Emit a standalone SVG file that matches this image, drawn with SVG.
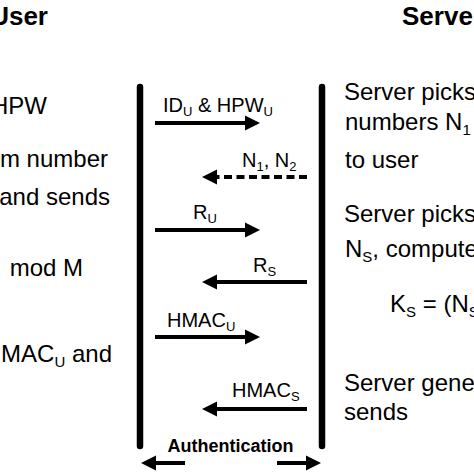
<svg xmlns="http://www.w3.org/2000/svg" width="474" height="474" viewBox="0 0 474 474">
<style>
.t{font-family:"Liberation Sans",Arial,sans-serif;font-size:24px;fill:#000}
.h{font-family:"Liberation Sans",Arial,sans-serif;font-size:26px;font-weight:bold;fill:#000}
.l{font-family:"Liberation Sans",Arial,sans-serif;font-size:20px;fill:#000}
.b{font-family:"Liberation Sans",Arial,sans-serif;font-size:18px;font-weight:bold;fill:#000}
.s{font-size:15px}
.ls{font-size:13px}
.life{stroke:#000;stroke-width:6.5;stroke-linecap:round;fill:none}
.arr{stroke:#000;stroke-width:4;fill:none;marker-end:url(#ah)}
.dash{stroke-dasharray:8 4.5}
</style>
<defs>
<marker id="ah" markerUnits="userSpaceOnUse" markerWidth="17" markerHeight="17" viewBox="0 -8.5 17 17" refX="1" refY="0" orient="auto">
<path d="M0,-7.5 L15,0 L0,7.5z" fill="#000"/>
</marker>
</defs>
<rect width="474" height="474" fill="#fff"/>

<g id="user-header"><text class="h" x="48" y="25" text-anchor="end">User</text></g>
<g id="server-header"><text class="h" x="402" y="25">Server</text></g>

<g id="user-lifeline"><line class="life" x1="140" y1="87" x2="140" y2="446"/></g>
<g id="server-lifeline"><line class="life" x1="322" y1="87" x2="322" y2="446"/></g>

<g id="user-steps">
<text class="t" x="47" y="114" text-anchor="end">HPW</text>
<text class="t" x="108" y="167" text-anchor="end">m number</text>
<text class="t" x="110" y="205" text-anchor="end">and sends</text>
<text class="t" x="83" y="276" text-anchor="end">mod M</text>
<text class="t" x="112" y="362" text-anchor="end">MAC<tspan class="s" dy="5">U</tspan><tspan dy="-5"> and</tspan></text>
</g>

<g id="server-steps">
<text class="t" x="344" y="100">Server picks</text>
<text class="t" x="345" y="130">numbers N<tspan class="s" dy="5">1</tspan></text>
<text class="t" x="345" y="168">to user</text>
<text class="t" x="344" y="222">Server picks</text>
<text class="t" x="345" y="257">N<tspan class="s" dy="5">S</tspan><tspan dy="-5">, compute</tspan></text>
<text class="t" x="390" y="312">K<tspan class="s" dy="5">S</tspan><tspan dy="-5"> = (N</tspan><tspan class="s" dy="5">S</tspan></text>
<text class="t" x="344" y="391">Server gene</text>
<text class="t" x="344" y="420">sends</text>
</g>

<g id="connectors">
<line class="arr" x1="155" y1="123" x2="246" y2="123"/>
<text class="l" x="163" y="112">ID<tspan class="ls" dy="4">U</tspan><tspan dy="-4"> &amp; HPW</tspan><tspan class="ls" dy="4">U</tspan></text>

<line class="arr dash" x1="307" y1="177" x2="216" y2="177"/>
<text class="l" x="242" y="167">N<tspan class="ls" dy="4">1</tspan><tspan dy="-4">, N</tspan><tspan class="ls" dy="4">2</tspan></text>

<line class="arr" x1="155" y1="230" x2="246" y2="230"/>
<text class="l" x="193" y="219">R<tspan class="ls" dy="4">U</tspan></text>

<line class="arr" x1="307" y1="282" x2="216" y2="282"/>
<text class="l" x="253" y="272">R<tspan class="ls" dy="4">S</tspan></text>

<line class="arr" x1="155" y1="337" x2="246" y2="337"/>
<text class="l" x="167" y="327">HMAC<tspan class="ls" dy="4">U</tspan></text>

<line class="arr" x1="307" y1="409" x2="216" y2="409"/>
<text class="l" x="232" y="397">HMAC<tspan class="ls" dy="4">S</tspan></text>

<line class="arr" x1="185" y1="463" x2="155" y2="463"/>
<line class="arr" x1="277" y1="463" x2="307" y2="463"/>
<text class="b" x="230.5" y="452" text-anchor="middle">Authentication</text>
</g>
</svg>
